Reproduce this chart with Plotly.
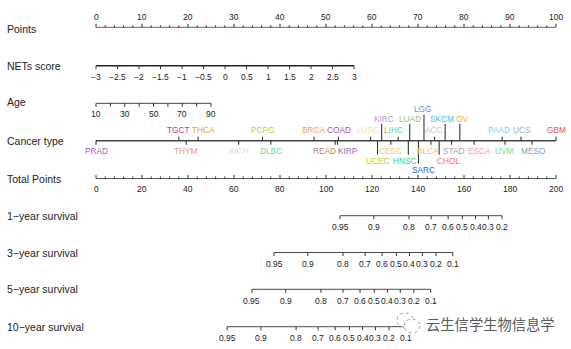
import plotly.graph_objects as go

# ---------------- data ----------------
# Points scale (0-100)
points_major = list(range(0, 101, 10))
points_minor = [v for v in range(0, 101, 2) if v % 10]

# NETs score: value range and the points it spans
nets_ticks = [-3, -2.5, -2, -1.5, -1, -0.5, 0, 0.5, 1, 1.5, 2, 2.5, 3]
nets_labels = ["−3", "−2.5", "−2", "−1.5", "−1", "−0.5", "0", "0.5", "1", "1.5", "2", "2.5", "3"]
nets_value_range = (-3, 3)
nets_points_range = (0.0, 56.1)

# Age: value range and the points it spans
age_ticks = [10, 20, 30, 40, 50, 60, 70, 80, 90]
age_labels = ["10", "", "30", "", "50", "", "70", "", "90"]
age_value_range = (10, 90)
age_points_range = (0.0, 25.0)

# Cancer type -> points
cancer_types = ["PRAD", "TGCT", "THYM", "THCA", "KICH", "PCPG", "DLBC", "BRCA",
                "READ", "COAD", "KIRP", "LUSC", "UCEC", "KIRC", "CESC", "LIHC",
                "HNSC", "LUAD", "SARC", "LGG", "BLCA", "ACC", "CHOL", "SKCM",
                "STAD", "OV", "ESCA", "PAAD", "UVM", "UCS", "MESO", "GBM"]
cancer_points = [0.0, 18.0, 19.6, 22.2, 31.0, 36.2, 38.0, 47.4,
                 52.0, 52.7, 52.5, 59.7, 61.2, 62.1, 64.1, 65.7,
                 67.9, 68.2, 70.1, 71.3, 72.8, 73.6, 74.6, 75.9,
                 77.3, 79.1, 82.2, 88.3, 88.9, 92.4, 94.8, 100.0]

# Total points scale (0-200)
total_major = list(range(0, 201, 20))
total_minor = [v for v in range(0, 201, 4) if v % 20]

# Survival probability scales, placed on total points
surv_labels = ["0.95", "0.9", "0.8", "0.7", "0.6", "0.5", "0.4", "0.3", "0.2", "0.1"]
surv_1y = [106.1, 120.8, 136.1, 145.7, 153.1, 159.3, 165.0, 170.6, 176.5]
surv_3y = [77.4, 92.1, 107.4, 117.0, 124.4, 130.6, 136.3, 141.9, 147.8, 155.1]
surv_5y = [67.8, 82.5, 97.8, 107.4, 114.8, 121.0, 126.7, 132.3, 138.2, 145.5]
surv_10y = [57.0, 71.7, 87.0, 96.6, 104.0, 110.2, 115.9, 121.5, 127.4, 134.7]

# ---------------- styling ----------------
cancer_colors = {
    "PRAD": "#A35FB5", "TGCT": "#D6367E", "THYM": "#E29A74", "THCA": "#D7A62C",
    "KICH": "#E2E0CC", "PCPG": "#B3D43C", "DLBC": "#5ED6BC", "BRCA": "#E9A67C",
    "READ": "#B5826A", "COAD": "#A9559B", "KIRP": "#8D6FAA", "LUSC": "#F3E2A4",
    "UCEC": "#A9D43A", "KIRC": "#A99ACC", "CESC": "#F4C68A", "LIHC": "#6CD76C",
    "HNSC": "#3FCB6B", "LUAD": "#9EBB72", "SARC": "#3458EA", "LGG": "#7C7CF2",
    "BLCA": "#F6BC64", "ACC": "#C4C4C4", "CHOL": "#EA7A5C", "SKCM": "#4DB8E8",
    "STAD": "#A3A3A3", "OV": "#E9B232", "ESCA": "#E9A2BA", "PAAD": "#82CAF2",
    "UVM": "#82DA82", "UCS": "#AAAAAA", "MESO": "#8A9AB2", "GBM": "#E25252",
}
# label row (+ above the line, - below) and horizontal nudge in px
cancer_label_layout = {
    "PRAD": (-1, 0), "TGCT": (1, 0), "THYM": (-1, 0), "THCA": (1, 5),
    "KICH": (-1, 0), "PCPG": (1, 0), "DLBC": (-1, 0), "BRCA": (1, 0),
    "READ": (-1, -11), "COAD": (1, 1), "KIRP": (-1, 10), "LUSC": (1, -3),
    "UCEC": (-2, 0), "KIRC": (2, 2), "CESC": (-1, 0), "LIHC": (1, -5),
    "HNSC": (-2, -3), "LUAD": (2, 0), "SARC": (-3, 5), "LGG": (3, -1),
    "BLCA": (-1, -3), "ACC": (1, -1), "CHOL": (-2, 9), "SKCM": (2, -3),
    "STAD": (-1, 2), "OV": (2, 2), "ESCA": (-1, 5), "PAAD": (1, -3),
    "UVM": (-1, 0), "UCS": (1, 1), "MESO": (-1, 1), "GBM": (1, 0),
}

FONT = "Liberation Sans, Arial, Helvetica, sans-serif"
AXIS_COLOR = "#333333"
TICK_FONT = 8.5
SURV_FONT = 8.5
LABEL_FONT = 10.5
CANCER_FONT = 8.3

# pixel rows of each scale
Y_POINTS, Y_NETS, Y_AGE, Y_CANCER, Y_TOTAL = 27.3, 65.7, 103.3, 140.7, 178.5
Y_1Y, Y_3Y, Y_5Y, Y_10Y = 215.7, 252.5, 289.3, 326.7

W, H = 571, 349
PX_LEFT, PX_RIGHT = 96, 556          # where 0 and 100 points fall
ppp = (PX_RIGHT - PX_LEFT) / 100.0   # px per point
x1_range = [-PX_LEFT / ppp, (W - PX_LEFT) / ppp]
x2_range = [2 * v for v in x1_range]


def lin(v, src, dst):
    return dst[0] + (v - src[0]) / (src[1] - src[0]) * (dst[1] - dst[0])


fig = go.Figure()
annotations = []


def add_segments(xs, y0s, y1s, axis="x", width=1.0, color=AXIS_COLOR):
    px, py = [], []
    for x, a, b in zip(xs, y0s, y1s):
        px += [x, x, None]
        py += [a, b, None]
    fig.add_trace(go.Scatter(x=px, y=py, mode="lines", xaxis=axis, yaxis="y",
                             line=dict(color=color, width=width),
                             hoverinfo="skip", showlegend=False))


def add_hline(x0, x1, y, axis="x", width=1.0, color=AXIS_COLOR):
    fig.add_trace(go.Scatter(x=[x0, x1], y=[y, y], mode="lines", xaxis=axis, yaxis="y",
                             line=dict(color=color, width=width),
                             hoverinfo="skip", showlegend=False))


def add_text(x, y, text, axis="x", size=TICK_FONT, color="#222222", xshift=0):
    annotations.append(dict(x=x, y=y, xref=axis, yref="y", text=text, showarrow=False,
                            xanchor="center", yanchor="middle", xshift=xshift,
                            font=dict(family=FONT, size=size, color=color)))


def row_label(y, text):
    annotations.append(dict(x=5 / W, y=y, xref="paper", yref="y", text=text,
                            showarrow=False, xanchor="left", yanchor="middle",
                            font=dict(family=FONT, size=LABEL_FONT, color="#222222")))


# ---- Points ----
row_label(Y_POINTS + 1.5, "Points")
add_hline(0, 100, Y_POINTS, width=0.9, color="#555555")
add_segments(points_major, [Y_POINTS] * len(points_major), [Y_POINTS - 3.5] * len(points_major))
add_segments(points_minor, [Y_POINTS] * len(points_minor), [Y_POINTS - 2] * len(points_minor))
for v in points_major:
    add_text(v, Y_POINTS - 10, str(v))

# ---- NETs score ----
row_label(Y_NETS, "NETs score")
nets_x = [lin(v, nets_value_range, nets_points_range) for v in nets_ticks]
add_hline(nets_x[0], nets_x[-1], Y_NETS, width=1.4, color="#222222")
add_segments(nets_x, [Y_NETS] * len(nets_x), [Y_NETS + 3.5] * len(nets_x))
for x, t in zip(nets_x, nets_labels):
    add_text(x, Y_NETS + 11, t)

# ---- Age ----
row_label(Y_AGE - 1, "Age")
age_x = [lin(v, age_value_range, age_points_range) for v in age_ticks]
add_hline(age_x[0], age_x[-1], Y_AGE, width=1.0, color="#444444")
add_segments(age_x, [Y_AGE] * len(age_x), [Y_AGE + 3.5] * len(age_x))
for x, t in zip(age_x, age_labels):
    if t:
        add_text(x, Y_AGE + 11, t)

# ---- Cancer type ----
row_label(Y_CANCER, "Cancer type")
add_hline(0, 100, Y_CANCER, width=1.4, color="#444444")
row_y = {1: 129.5, 2: 119.0, 3: 108.5, -1: 151.2, -2: 161.0, -3: 169.5}
tick_end = {1: Y_CANCER - 4, 2: Y_CANCER - 17, 3: Y_CANCER - 26,
            -1: Y_CANCER + 4, -2: Y_CANCER + 14, -3: Y_CANCER + 23}
tx, ty0, ty1 = [], [], []
for name, p in zip(cancer_types, cancer_points):
    row, dx = cancer_label_layout[name]
    tx.append(p)
    ty0.append(Y_CANCER)
    ty1.append(tick_end[row])
    add_text(p, row_y[row], name, size=CANCER_FONT, color=cancer_colors[name], xshift=dx)
add_segments(tx, ty0, ty1, width=1.1, color="#333333")

# ---- Total Points ----
row_label(Y_TOTAL, "Total Points")
add_hline(0, 200, Y_TOTAL, axis="x2", width=0.9, color="#444444")
add_segments(total_major, [Y_TOTAL] * len(total_major), [Y_TOTAL - 3.5] * len(total_major), axis="x2")
add_segments(total_minor, [Y_TOTAL] * len(total_minor), [Y_TOTAL - 2] * len(total_minor), axis="x2")
for v in total_major:
    add_text(v, Y_TOTAL + 10.5, str(v), axis="x2")

# ---- Survival scales ----
for y, name, xs in [(Y_1Y, "1−year survival", surv_1y),
                    (Y_3Y, "3−year survival", surv_3y),
                    (Y_5Y, "5−year survival", surv_5y),
                    (Y_10Y, "10−year survival", surv_10y)]:
    row_label(y, name)
    add_hline(xs[0], xs[-1], y, axis="x2", width=0.9, color="#333333")
    add_segments(xs, [y] * len(xs), [y + 3.5] * len(xs), axis="x2")
    for x, t in zip(xs, surv_labels):
        add_text(x, y + 11.5, t, axis="x2", size=SURV_FONT)

# ---- account mark ----
annotations.append(dict(x=490 / W, y=323, xref="paper", yref="y", text="云生信学生物信息学",
                        showarrow=False, xanchor="center", yanchor="middle",
                        font=dict(family="Noto Sans CJK SC", size=14.3, color="#5a5a5a")))
shapes = [
    dict(type="circle", xref="paper", yref="y", x0=397 / W, x1=413 / W, y0=313, y1=327,
         line=dict(color="#9a9a9a", width=1, dash="dot"), fillcolor="rgba(255,255,255,0.9)"),
    dict(type="circle", xref="paper", yref="y", x0=404 / W, x1=420 / W, y0=319, y1=333,
         line=dict(color="#9a9a9a", width=1, dash="dot"), fillcolor="rgba(255,255,255,0.9)"),
]

fig.update_layout(
    width=W, height=H,
    margin=dict(l=0, r=0, t=0, b=0),
    paper_bgcolor="white", plot_bgcolor="white",
    xaxis=dict(range=x1_range, visible=False, fixedrange=True),
    xaxis2=dict(range=x2_range, visible=False, overlaying="x", fixedrange=True),
    yaxis=dict(range=[H, 0], visible=False, fixedrange=True),
    annotations=annotations,
    shapes=shapes,
    showlegend=False,
)

fig.write_html("out.html")
